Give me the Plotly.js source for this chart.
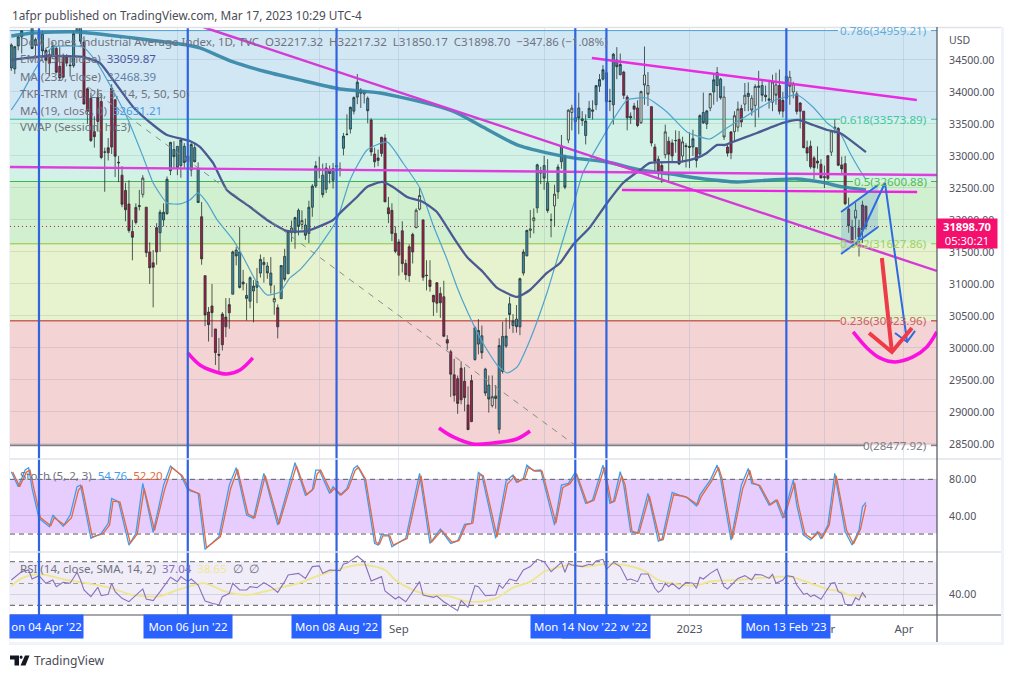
<!DOCTYPE html>
<html><head><meta charset="utf-8">
<script src="https://cdn.plot.ly/plotly-3.0.1.min.js"></script>
<style>html,body{margin:0;padding:0;background:#fff}#c{width:1011px;height:678px}</style>
</head><body><div id="c"></div>
<script>
// ---- daily bars (bar number 0 = 23 Mar 2022, 247 = 17 Mar 2023)
const open = [34375,34360,34720,34860,35100,35260,35200,34730,34820,34900,
34650,34450,34560,34680,34400,34230,34560,34420,34410,34950,
35350,34780,33700,33900,33380,33540,33850,33060,33050,33140,
33880,32890,32700,32460,32250,31820,31960,32210,32400,32200,
31500,31330,31500,31800,32000,32100,32770,33100,33150,32850,
33150,33000,32780,33130,32810,32050,31130,30560,30656,30297,
29900,30050,30330,30550,30840,31530,31500,31000,30820,30730,
30890,30950,31170,31300,31280,31170,30720,30330,30770,31430,
31160,31800,31800,32150,31930,31920,31790,32200,32530,32770,
32700,32480,32780,32620,32850,32800,33120,33340,33420,33700,
33920,34030,33970,33900,33560,33030,32930,33040,33280,32190,
32150,31790,31450,31830,31320,31130,31500,31880,32170,32000,
31130,31060,30720,30700,30850,30800,30130,29940,29580,29520,
29190,29480,29110,28850,29820,30060,30190,29670,29420,29100,
29250,28730,30180,30030,30690,30350,30450,30330,31170,31440,
31860,31990,32190,32770,32850,32580,32000,32220,32440,32910,
33000,33250,33680,33600,33750,33580,33320,33600,33720,33800,
34090,34200,34300,33860,33800,34500,34270,34310,33920,33620,
33730,33750,33520,34265,34100,33770,33140,32950,32730,33020,
33230,33000,33240,33260,33000,33160,33150,33140,33130,33030,
33680,33500,33750,34000,34100,34200,33920,33140,33050,33380,
33450,33530,33810,33930,33900,33790,34070,34100,33950,33870,
33840,34110,34100,33700,33900,34230,34000,33970,33700,33700,
33130,32830,32970,32920,32870,32680,32650,33060,33450,33430,
32860,32880,32170,31890,32150,31875,31844,32217.32];
const high = [34760,34720,34890,34960,35372,35300,35250,34850,35030,34960,
34690,34670,34780,34720,34700,34600,34590,34570,34960,35510,
35490,34870,34070,33990,33620,34050,33980,33130,33280,34120,
33880,33000,32840,32580,32620,32000,32260,32470,32700,32200,
31650,31530,31950,32160,32260,32680,33220,33230,33150,33250,
33200,33270,33200,33190,32900,32280,31130,30640,31000,30297,
30156,30560,30780,30780,31520,31580,31890,31220,31010,31120,
31060,31250,31460,31420,31340,31420,30980,30680,31290,31550,
31840,31990,32050,32180,32150,32020,32300,32560,32920,32990,
32880,32890,32850,32890,33100,32900,33360,33650,33770,33930,
34280,34060,34030,33930,33590,33130,33100,33300,33340,32360,
32260,31900,31700,31980,31380,31620,31800,32180,32510,32010,
31370,31370,30830,31030,30950,31050,30200,29970,29830,29570,
29790,29700,29400,29580,30340,30450,30350,29690,29570,29570,
29420,30150,30410,30470,30800,30530,30670,31100,31540,31850,
32156,32180,32880,32830,33000,32950,32100,32550,32870,33328,
33020,33730,33800,33900,33990,33700,33650,33860,33870,34110,
34280,34420,34350,34050,34610,34700,34600,34330,33950,33680,
33830,33870,34020,34710,34310,33780,33190,33000,32900,33490,
33300,33260,33400,33390,33300,33200,33370,33410,33130,33650,
33990,33720,33980,34280,34390,34220,34090,33200,33390,33700,
33850,33800,34140,34150,33950,34120,34330,34200,34100,34190,
34270,34300,34350,34000,34260,34330,34160,34010,33840,33700,
33240,33240,33000,33150,32950,32850,33016,33400,33570,33450,
32990,33000,32350,32000,32270,32000,32300,32217.32];
const low = [34330,34280,34650,34600,35050,35100,34670,34560,34700,34550,
34300,34250,34540,34290,34170,34220,34400,34240,34380,34950,
34750,33810,33500,33220,33130,33380,32950,32440,32930,33030,
32670,32590,32200,31980,31800,31370,31930,32150,32350,31420,
31000,30635,31300,31500,31900,32080,32700,32800,32700,32660,
32800,32840,32680,32900,32270,31300,30340,30100,30170,29734,
29625,29960,30170,30300,30840,31290,30930,30900,30430,30620,
30400,30700,31100,31020,31080,30850,30520,30150,30770,31040,
31160,31660,31550,31760,31850,31690,31640,32050,32500,32650,
32350,32420,32570,32490,32690,32680,33010,33320,33350,33650,
33810,33750,33820,33510,33000,32820,32840,32990,32280,31950,
31670,31480,31130,31180,31060,31030,31320,31870,32150,31050,
30900,30880,30500,30550,30470,30170,29970,29234,29160,28970,
29120,29010,28715,28840,29800,29900,29830,29250,28990,29070,
29050,28660,29600,30000,30300,30234,30240,30200,31130,31430,
31720,31790,32110,32560,32470,32110,31730,31900,32330,32800,
32480,33200,33400,33450,33340,33470,33180,33600,33570,33720,
34000,34180,33830,33700,33490,34200,34260,33890,33400,33500,
33580,33450,33500,33800,33780,33150,32760,32650,32580,32960,
32580,32900,33050,32860,32900,32820,32810,33000,32820,33000,
33500,33420,33700,33800,33850,33880,33250,32990,32950,33230,
33380,33450,33700,33700,33630,33450,33600,33850,33850,33740,
33700,33800,33650,33600,33850,33800,33900,33650,33430,33120,
32920,32800,32640,32800,32650,32500,32620,33000,33350,32840,
32700,32230,31800,31620,31700,31429,31640,31850.17];
const close = [34734,34707,34861,34955,35294,35228,34678,34818,34921,34641,
34496,34583,34721,34308,34220,34564,34451,34411,34911,35160,
34792,33811,34049,33240,33301,33916,32977,33061,33128,34061,
32997,32899,32245,32160,31834,31730,32196,32223,32654,31490,
31253,31262,31880,32120,32120,32637,33212,32990,32813,33248,
32899,32915,33180,32910,32272,31392,30516,30364,30551,29927,
29888,30530,30483,30677,31500,31438,30946,31029,30775,31097,
30967,31037,31384,31338,31173,30981,30772,30630,31288,31072,
31827,31874,32036,31899,31990,31761,32197,32529,32845,32798,
32396,32812,32726,32803,32832,32774,33309,33336,33761,33912,
34152,33980,33999,33706,33063,32909,32969,33291,32283,32098,
31790,31510,31656,31318,31145,31581,31774,32151,32381,31104,
31135,30961,30822,31019,30706,30183,30076,29590,29260,29134,
29684,29225,28725,29490,30316,30273,29926,29296,29202,29239,
29210,30038,29634,30185,30523,30423,30333,31082,31499,31836,
31839,32033,32861,32732,32653,32147,32001,32403,32827,33160,
32513,33715,33747,33536,33592,33553,33546,33745,33700,34098,
34194,34347,33849,33852,34589,34395,34429,33947,33596,33597,
33781,33476,34005,34108,33966,33202,32920,32757,32850,33376,
33027,33203,33241,32875,33220,33147,33136,33269,32930,33630,
33517,33704,33973,34189,34302,33910,33296,33044,33375,33629,
33733,33743,33949,33978,33717,34086,34092,33949,33926,33891,
34156,33949,33699,33869,34246,34089,34128,33696,33827,33130,
33045,33153,32817,32889,32656,32661,33003,33391,33431,32856,
32798,32254,31909,31660,32030,31734,32234,31898.70];
// bar colour set by the TKP-TRM rating: b = up, r = down, w = neutral
const trend = ("bbbbbbbbbb"+"rrbrrrrrbb"+"brrrrrrrrr"+"rrrrrrrrwr"+"rrrbbbbbbb"+"bbbbbrrrrr"+"rrrrbbbbbb"+"bbbbbbwrbb"+"bwbbwbbbbw"+"bbbbwbbbbb"
+"bbwbrrrrrr"+"rrrrrrrwwr"+"rrrrrrrrrr"+"rrrrbbbbbw"+"bbbbbbbbbb"+"wwbbbbbwbb"+"bwwbbbbbbb"+"bbbbbbbrrr"+"rrwwwrrrrw"+"rrrrwrrbrb"
+"bbwbbbwrrw"+"wrwbwwwbbb"+"wwrrwwwrrr"+"rrrrrwrwwr"+"rrrrwrrr").split("");

// ---- moving averages (bar number, price)
const emaX=[0,4.5,11.2,20.7,25.6,29.4,35.2,41,45,51.6,54.5,58.3,62.3,69,73.9,79.7,85.5,93,95,99.9,102.8,107.1,110.3,114.4,119,123,127.7,131.7,136.3,140.4,146.2,149.9,154.8,158.6,162.3,167.3,172.2,176.8,181.7,184.6,193.3,198.2,201,204,206.3,207.7,215.5,223,227.3,231.7,235.8,239.5,247];
const emaY=[34500,34531,34562,34547,34453,34188,33766,33484,33328,33234,33141,32891,32469,32203,32000,31828,31828,32000,32109,32359,32516,32594,32516,32359,32281,32125,31734,31422,31188,30938,30797,30906,31172,31328,31609,31891,32266,32578,32781,32891,32906,32969,33047,33172,33172,33203,33359,33516,33563,33484,33406,33359,33059.87];
const ma233X=[0,6.3,19,35.2,50.8,54.5,64.1,73.9,83.4,95,106.6,121.9,128.8,136.3,146.2,154.8,162.3,172.2,181.7,190.4,198.2,209.7,219.3,227.1,233.7,240.4,247];
const ma233Y=[34875,34922,34938,34844,34734,34688,34469,34312,34188,34047,33984,33797,33672,33453,33172,33047,32969,32906,32781,32719,32656,32594,32625,32641,32594,32516,32468.39];
const ma19X=[0,2.5,6.3,9.2,12.1,20.7,24.8,27.7,33.4,38.1,41,45,48.8,51.6,54,56.6,59.5,64.1,67,71,73.9,77.7,80.5,83.4,88.3,94.1,97.9,102.8,108.6,113.2,118.1,121.9,126,128.8,132,136.3,140.4,143.3,146.2,149.9,154.8,157.7,162.3,165.2,171,173.9,178,183.7,189.5,195.3,201.9,206.8,211.5,219.3,227.1,231.7,235.8,239.5,242.4,245,247];
const ma19Y=[33719,33922,34297,34547,34703,34703,34453,34188,33609,32984,32578,32266,32250,32313,32422,32266,32000,31688,31422,31016,30828,30875,31094,31219,31531,32000,32625,33094,33219,32891,32500,31922,31375,30953,30547,30078,29734,29609,29703,30125,30859,31375,32203,32734,33297,33563,33875,33906,33688,33375,33266,33438,33594,33844,33953,33766,33516,33359,33047,32800,32631.21];

// ---- Stochastic
const kX=[0,2,4,5,6,8,11,12,15,17,19,20,23,26,28,29,31,34,36,38,41,44,46,49,51,54,56,60,63,65,68,70,73,77,82,85,87,88,89,92,93,95,97,99,100,102,105,106,107,109,110,114,118,121,124,127,129,131,133,135,136,140,143,145,146,148,149,151,153,157,159,161,163,166,168,171,173,174,176,177,179,181,184,187,188,191,193,195,198,199,202,204,205,208,211,213,214,216,219,221,223,226,227,229,231,233,234,236,238,241,243,245,246,247];
const kY=[88.3,71.9,90.2,92.7,70,37.2,28,40.8,28.7,40.8,71.9,73.7,15.2,20.7,31.7,59.1,55.4,7.9,20.7,75.5,21.8,73.7,94.5,84.7,68.2,64.6,3.2,17.1,73.7,92.7,40.8,37.2,86.5,29.8,98.2,62.7,68.2,90.2,90.2,64.6,71.9,62.7,70,92,94.9,81,9.7,7.9,19.6,18.9,6.1,15.2,86.5,9.7,25.5,9.7,12.3,30.6,31.7,87.6,84.7,15.2,78.1,84.7,76.6,81,95.6,89.4,90.2,29.8,73.7,75.5,87.6,53.6,57.3,95.6,53.6,55.4,88.3,73.7,22.5,20.7,64.6,12.3,13.4,65.7,62.7,60.9,51,62.7,79.2,95.6,81,13.4,73.7,92,75.5,73.7,51.8,57.3,37.2,79.2,51.8,18.9,13.4,22.5,14.5,29.8,86.5,22.5,7.9,24.4,49.9,54.76];
const dX=[0.4,2.4,4.4,5.4,6.4,8.4,11.4,12.4,15.4,17.4,19.4,20.4,23.4,26.4,28.4,29.4,31.4,34.4,36.4,38.4,41.4,44.4,46.4,49.4,51.4,54.4,56.4,60.4,63.4,65.4,68.4,70.4,73.4,77.4,82.4,85.4,87.4,88.4,89.4,92.4,93.4,95.4,97.4,99.4,100.4,102.4,105.4,106.4,107.4,109.4,110.4,114.4,118.4,121.4,124.4,127.4,129.4,131.4,133.4,135.4,136.4,140.4,143.4,145.4,146.4,148.4,149.4,151.4,153.4,157.4,159.4,161.4,163.4,166.4,168.4,171.4,173.4,174.4,176.4,177.4,179.4,181.4,184.4,187.4,188.4,191.4,193.4,195.4,198.4,199.4,202.4,204.4,205.4,208.4,211.4,213.4,214.4,216.4,219.4,221.4,223.4,226.4,227.4,229.4,231.4,233.4,234.4,236.4,238.4,241.4,243.4,245.4,247];
const dY=[88,72,88,90,72,38,29,38,30,38,68,73,17,20,30,56,55,10,20,70,24,70,93,84,69,64,5,17,70,91,42,38,84,31,95,63,70,86,90,66,70,63,70,90,93,80,11,9,18,18,8,15,84,11,24,11,13,30,32,85,84,17,75,83,77,81,93,89,89,32,71,75,86,54,57,93,55,56,84,74,23,21,62,14,14,63,62,60,52,61,78,93,81,15,70,90,76,73,52,57,38,76,53,20,15,22,16,30,84,24,9,25,52.20];

// ---- RSI and its SMA
const rsiX=[0,3,5,6,8,10,12,13,15,17,19,20,21,23,25,26,28,29,30,32,34,36,38,39,41,43,46,48,49,51,52,54,56,58,60,61,63,64,66,68,69,71,73,75,77,79,80,83,85,87,89,90,92,95,96,97,100,102,104,107,108,111,112,114,118,119,122,123,125,129,130,132,134,135,137,140,141,142,144,146,148,150,152,154,156,159,160,161,162,165,167,168,169,171,172,174,176,178,179,181,182,184,186,187,188,189,190,191,193,195,197,198,199,200,202,204,206,207,210,212,214,215,217,219,220,221,223,224,226,227,229,230,231,232,234,237,238,239,240,241,243,244,245,246,247];
const rsiY=[53.2,60.9,62.4,54.1,57.2,50.2,53.2,47.1,51.1,50.2,60.3,53.2,44.1,37.9,46.5,38.8,40.1,50.2,42.5,36.4,33.3,39.5,45,35.8,34.3,42.5,55.7,51.7,56.3,51.7,54.1,48.6,34,31.8,30.3,37.9,41,50.2,44.1,44.1,47.1,46.2,50.8,47.1,41.9,51.7,57.8,59.3,54.7,65.5,66.1,59.3,62.4,61.8,67.9,68.5,75.2,70,52.3,56.3,43.1,35.8,37.9,33.3,51.7,39.5,37.3,38.5,33.3,25.1,34.3,28.2,48,47.1,38.8,39.5,48.6,45.6,54.1,52.3,62.4,65.5,72.2,70,60.9,69.4,60.3,68.5,67,65.5,67.6,67,70.7,72.2,63,69.4,65.5,53.2,54.1,51.7,58.7,58.7,45.6,41.9,44.1,50.2,47.1,50.2,45,51.1,50.2,45.6,55.7,54.1,59.3,63.3,47.1,45,54.7,57.2,53.2,58.4,57.8,54.7,58.4,50.2,53.2,57.2,56.3,48.6,40.1,41,37.9,39.5,35.5,50.2,50.8,42.5,41,30.9,30.3,37,34.9,41.6,37.04];
const smaX=[0,3,8,16,22,29,35,43,48,53,56,62,68,73,79,83,88,93,100,102,108,111,116,120,127,132,140,145,150,154,158,162,166,171,177,183,187,191,197,203,210,215,223,226,231,236,240,242,247];
const smaY=[47.7,54.7,58.4,53.2,50.2,45.6,39.5,38.5,44.1,48.6,50.2,42.5,39.5,42.5,47.1,50.2,56.3,61.5,67,67,62.4,53.2,44.1,40.1,37.9,33.3,36.4,46.2,51.7,60.9,64.8,67,65.5,67.6,67,61.5,53.2,50.2,48,52.3,53.2,54.7,56.3,55.4,50.2,44.7,42.5,39.5,38.65];

// ---- Fibonacci levels
const fibLevel=[34959.21,33573.89,32600.88,31627.86,30423.96,28477.92];
const fibName=["0.786","0.618","0.5","0.382","0.236","0"];
const fibColor=["#4f9fd4","#2ec09a","#3cb54a","#8fc43c","#b3261e","#7c7f88"];
const fibText=["#62acd8","#3fc7a2","#4dbd55","#a3cf5e","#c9605a","#7c7f88"];
const fibFill=["#d2e7f4","#d3f2e7","#d1f0d0","#e7f2cf","#f3d3d3"];
const fibLabelLeft=[838,840,853,840,840,865];

// ---- hand drawings (bar number, price)
const trendA=[[55.4,267.5],[35015,31203]];
const trendB=[[-0.4,267.5],[32828,32703]];
const trendC=[[167.8,261.7],[34531,33875]];
const trendD=[[176.5,261.8],[32469,32438]];
const smile1=[[51,54.5,58.3,62.3,66.1,69.8],[29922,29734,29641,29594,29656,29844]];
const smile2=[[123.6,127.7,133.4,139.2,146.1,149.9],[28750,28609,28500,28516,28578,28703]];
const smile3=[[243.3,247.3,251,255.4,260.6,264.6,267.5],[30250,30000,29844,29781,29859,30016,30250]];
const redArrow=[[251.6,254.5],[31406,29938]];
const redHead=[[247.9,254.5,260.3],[30234,29938,30313]];
const flagTop=[[239.8,250.5],[32125,32547]];
const flagBottom=[[239.8,250.5],[31469,31891]];
const flagArea=[[239.8,250.5,250.5,239.8,239.8],[32125,32547,31891,31469,32125]];
const flagMove=[[244.7,252.5,258.9],[31672,32578,30094]];
const blueHead=[[255.4,258.9,261.2],[30234,30094,30266]];
const fibDash=[[22.2,163],[34078,28478]];
const eventBars=[8,51,94,163,172,224];
const lastClose=31898.70;

// ---- axis labels
const priceTicks=[28500,29000,29500,30000,30500,31000,31500,32000,32500,33000,33500,34000,34500];
const monthBars=[48,89,112,154,196,235,258];
const monthNames=["","","Sep","","2023","Mar","Apr"];

const FONT='"Noto Sans",sans-serif';
const idx=open.map((_,i)=>i);
function candle(flag,fill){
  const pick=a=>a.filter((_,i)=>trend[i]===flag);
  return {type:'candlestick',x:pick(idx),open:pick(open),high:pick(high),low:pick(low),close:pick(close),
    xaxis:'x',yaxis:'y',whiskerwidth:0,hoverinfo:'skip',showlegend:false,
    increasing:{fillcolor:fill,line:{color:'#25332f',width:0.8}},
    decreasing:{fillcolor:fill,line:{color:'#25332f',width:0.8}}};
}
function line(xy,color,width,extra){
  return Object.assign({type:'scatter',mode:'lines',x:xy[0],y:xy[1],xaxis:'x',yaxis:'y',hoverinfo:'skip',showlegend:false,
    line:{color:color,width:width}},extra||{});
}
const traces=[
  line([ma233X,ma233Y],'#3a83a8',3.4,{line:{color:'rgba(50,132,165,0.9)',width:3.4,shape:'spline',smoothing:0.6}}),
  line([ma19X,ma19Y],'#4ea4cc',1.2,{line:{color:'#4ea4cc',width:1.2,shape:'spline',smoothing:0.5}}),
  candle('b','#3b8fb4'),candle('r','#b0174d'),candle('w','#e6e8e6'),
  line([emaX,emaY],'#4b5a92',2.3,{line:{color:'#4b5a92',width:2.3,shape:'spline',smoothing:0.5}}),
  line(fibDash,'#8b8b8b',1,{line:{color:'#8b8b8b',width:1,dash:'6px 6px'}}),
  line(trendA,'#d43ad6',2.4),line(trendB,'#dd3fdc',2.4),line(trendC,'#e92ce0',2.4),line(trendD,'#ee22e2',2.4),
  line(flagArea,'rgba(60,120,220,0)',0,{fill:'toself',fillcolor:'rgba(70,130,210,0.22)'}),
  line(flagTop,'#2f6be0',2),line(flagBottom,'#2f6be0',2),line(flagMove,'#2f6be0',2),line(blueHead,'#2f6be0',2),
  line(smile1,'#fb10e0',3.6,{line:{color:'#fb10e0',width:3.6,shape:'spline'}}),
  line(smile2,'#fb10e0',3.6,{line:{color:'#fb10e0',width:3.6,shape:'spline'}}),
  line(smile3,'#fb10e0',3.6,{line:{color:'#fb10e0',width:3.6,shape:'spline'}}),
  line(redArrow,'#ef3a48',4),line(redHead,'#ef3a48',4),
  {type:'scatter',mode:'lines',x:kX,y:kY,xaxis:'x',yaxis:'y2',hoverinfo:'skip',showlegend:false,line:{color:'#3f9dee',width:1.3}},
  {type:'scatter',mode:'lines',x:dX,y:dY,xaxis:'x',yaxis:'y2',hoverinfo:'skip',showlegend:false,line:{color:'#e5683c',width:1.3}},
  {type:'scatter',mode:'lines',x:smaX,y:smaY,xaxis:'x',yaxis:'y3',hoverinfo:'skip',showlegend:false,line:{color:'#eee68c',width:1.8,shape:'spline'}},
  {type:'scatter',mode:'lines',x:rsiX,y:rsiY,xaxis:'x',yaxis:'y3',hoverinfo:'skip',showlegend:false,line:{color:'#8a70bd',width:1.1}}
];

// page-frame helpers: pixel position -> paper fraction (chrome only, no data)
const PX=v=>(v-10)/927, PY=v=>(615-v)/588;
function frame(x0,y0,x1,y1,color,w){return {type:'line',xref:'paper',yref:'paper',x0:PX(x0),y0:PY(y0),x1:PX(x1),y1:PY(y1),line:{color:color,width:w},layer:'above'};}
const shapes=[];
// Fibonacci bands
for(let i=0;i<5;i++) shapes.push({type:'rect',xref:'paper',yref:'y',x0:0,x1:1,y0:fibLevel[i],y1:fibLevel[i+1],fillcolor:fibFill[i],line:{width:0},layer:'below'});
// Fibonacci level lines with a gap for their label
fibLevel.forEach((v,i)=>{
  const w=i===5?1.6:1;
  shapes.push({type:'line',xref:'paper',yref:'y',x0:0,x1:PX(fibLabelLeft[i]),y0:v,y1:v,line:{color:fibColor[i],width:w},layer:'between'});
  shapes.push({type:'line',xref:'paper',yref:'y',x0:PX(931),x1:1,y0:v,y1:v,line:{color:fibColor[i],width:w},layer:'between'});
});
// last price
shapes.push({type:'line',xref:'paper',yref:'y',x0:0,x1:1,y0:lastClose,y1:lastClose,line:{color:'#c2185b',width:1,dash:'1px 3px'},layer:'between'});
// stochastic and RSI bands
shapes.push({type:'rect',xref:'paper',yref:'y2',x0:0,x1:1,y0:21,y1:80,fillcolor:'#e7cdfd',line:{width:0},layer:'below'});
shapes.push({type:'rect',xref:'paper',yref:'y3',x0:0,x1:1,y0:30,y1:70,fillcolor:'#f0ecf8',line:{width:0},layer:'below'});
[['y2',80,'#555'],['y2',20,'#555'],['y3',70,'#666'],['y3',50,'#999'],['y3',30,'#555']].forEach(h=>{
  shapes.push({type:'line',xref:'paper',yref:h[0],x0:0,x1:1,y0:h[1],y1:h[1],line:{color:h[2],width:1,dash:'5px 4px'},layer:'between'});
});
// vertical event lines
eventBars.forEach(b=>{
  shapes.push({type:'line',xref:'x',yref:'paper',x0:b,x1:b,y0:PY(553),y1:1,line:{color:'#2f63e0',width:2.2},layer:'above'});
  shapes.push({type:'line',xref:'x',yref:'paper',x0:b,x1:b,y0:0,y1:PY(551),line:{color:'#2f63e0',width:2.2},layer:'above'});
});
// frame
shapes.push(frame(10,459,1001,459,'#e0e3eb',1.6),frame(10,552,1001,552,'#e0e3eb',1.6),frame(10,27.5,1001,27.5,'#dfe2e8',1.5));
shapes.push(frame(937,27,937,642,'#50535e',1.2),frame(10,615,1001,615,'#50535e',1.2));
shapes.push(frame(10,643.5,1003,643.5,'#f0f3fa',3),frame(1002.5,27,1002.5,645,'#f0f3fa',3),frame(9.5,27,9.5,645,'#f0f3fa',1));
// TradingView logo
function poly(pts,fill){const d=pts.map((p,i)=>(i?'L':'M')+PX(p[0])+','+PY(p[1])).join(' ')+' Z';
  return {type:'path',xref:'paper',yref:'paper',path:d,fillcolor:fill,line:{width:0},layer:'above'};}
shapes.push(poly([[10,655.5],[19,655.5],[19,665.5],[14.5,665.5],[14.5,659.5],[10,659.5]],'#131722'));
shapes.push(poly([[25,655.5],[29.5,655.5],[25.5,665.5],[20.5,665.5]],'#131722'));
shapes.push({type:'circle',xref:'paper',yref:'paper',x0:PX(19.6),x1:PX(22.6),y0:PY(655.6),y1:PY(658.8),fillcolor:'#131722',line:{width:0},layer:'above'});

const annotations=[];
function T(px,py,text,size,color,anchor){annotations.push({xref:'paper',yref:'paper',x:PX(px),y:PY(py),text:text,showarrow:false,xanchor:anchor||'left',yanchor:'middle',font:{family:FONT,size:size,color:color}});}
const G='#6f7280';
T(10,15,'1afpr published on TradingView.com, Mar 17, 2023 10:29 UTC-4',11.8,'#4a4d57');
T(18,42,'Dow Jones Industrial Average Index, 1D, TVC&nbsp;&nbsp;O32217.32&nbsp;&nbsp;H32217.32&nbsp;&nbsp;L31850.17&nbsp;&nbsp;C31898.70&nbsp;&nbsp;−347.86 (−1.08%)',11.5,G);
T(18,59,'EMA (50, close)&nbsp;&nbsp;<span style="color:#4a57a0">33059.87</span>',11.5,G);
T(18,76,'MA (233, close)&nbsp;&nbsp;<span style="color:#5f7fa6">32468.39</span>',11.5,G);
T(18,93,'TKP-TRM&nbsp;&nbsp;(0, 26, 5, 14, 5, 50, 50)',11.5,G);
T(18,110,'MA (19, close, 0)&nbsp;&nbsp;<span style="color:#3f9fe6">32631.21</span>',11.5,G);
T(18,127,'VWAP (Session, hlc3)',11.5,G);
T(18,475,'Stoch (5, 2, 3)&nbsp;&nbsp;<span style="color:#3f9dee">54.76</span>&nbsp;&nbsp;<span style="color:#e5683c">52.20</span>',11.5,G);
T(18,568,'RSI (14, close, SMA, 14, 2)&nbsp;&nbsp;<span style="color:#8a6fc0">37.04</span>&nbsp;&nbsp;<span style="color:#efe98f">38.65</span>&nbsp;&nbsp;∅&nbsp;&nbsp;∅',11.5,G);
T(947,40,'USD',10.5,'#50535e');
T(32,660,'TradingView',12.2,'#4a4d57');
fibLevel.forEach((v,i)=>{
  annotations.push({xref:'paper',yref:'y',x:PX(929),y:v,text:fibName[i]+'('+v.toFixed(2)+')',showarrow:false,xanchor:'right',yanchor:'middle',font:{family:FONT,size:11.6,color:fibText[i]}});
});
// date flags on the time axis
function flag(bar,text,w){annotations.push({xref:'x',yref:'paper',x:bar,y:PY(626.5),text:text,showarrow:false,xanchor:'center',yanchor:'middle',width:w,height:23,borderpad:0,bgcolor:'#2962ff',align:'center',font:{family:FONT,size:11.4,color:'#fff'}});}
flag(172,"Mon 28 Nov '22",88);
flag(163,"Mon 14 Nov '22",89);
flag(10.2,"on 04 Apr '22",73);
flag(51,"Mon 06 Jun '22",88);
flag(94,"Mon 08 Aug '22",89);
flag(224,"Mon 13 Feb '23",88);
// last price tag
annotations.push({xref:'paper',yref:'paper',x:PX(967),y:PY(233.5),text:'<b>31898.70</b><br>05:30:21',showarrow:false,xanchor:'center',yanchor:'middle',width:60,height:29,borderpad:0,bgcolor:'#f5106e',align:'center',font:{family:FONT,size:11.2,color:'#fff'}});

const tickFont={family:FONT,size:10.6,color:'#50535e'};
const layout={
  width:1011,height:678,autosize:false,
  margin:{l:10,r:74,t:27,b:63,pad:0},
  paper_bgcolor:'#fff',plot_bgcolor:'#fff',
  boxmode:'overlay',boxgap:0.15,showlegend:false,dragmode:false,
  xaxis:{range:[-0.38,267.54],domain:[0,1],anchor:'y3',tickmode:'array',tickvals:monthBars,ticktext:monthNames,
    showgrid:true,gridcolor:'rgba(150,170,200,0.28)',gridwidth:1,zeroline:false,showline:false,ticks:'outside',ticklen:3,tickcolor:'rgba(0,0,0,0)',
    rangeslider:{visible:false},tickfont:{family:FONT,size:11.4,color:'#50535e'},tickangle:0},
  yaxis:{domain:[156/588,1],range:[28265,35015],side:'right',anchor:'x',tickmode:'array',tickvals:priceTicks,ticktext:priceTicks.map(v=>v.toFixed(2)),
    showgrid:true,gridcolor:'rgba(120,130,150,0.18)',zeroline:false,showline:false,ticks:'outside',ticklen:9,tickcolor:'rgba(0,0,0,0)',tickfont:tickFont},
  yaxis2:{domain:[63/588,156/588],range:[0.3,102.3],side:'right',anchor:'x',tickmode:'array',tickvals:[40,80],ticktext:['40.00','80.00'],
    showgrid:true,gridcolor:'rgba(120,130,170,0.25)',zeroline:false,showline:false,ticks:'outside',ticklen:9,tickcolor:'rgba(0,0,0,0)',tickfont:tickFont},
  yaxis3:{domain:[0,63/588],range:[21.1,78.9],side:'right',anchor:'x',tickmode:'array',tickvals:[40],ticktext:['40.00'],
    showgrid:true,gridcolor:'rgba(120,130,170,0.25)',zeroline:false,showline:false,ticks:'outside',ticklen:9,tickcolor:'rgba(0,0,0,0)',tickfont:tickFont},
  shapes:shapes,annotations:annotations
};
Plotly.newPlot('c',traces,layout,{displayModeBar:false,staticPlot:true,responsive:false});
</script></body></html>
